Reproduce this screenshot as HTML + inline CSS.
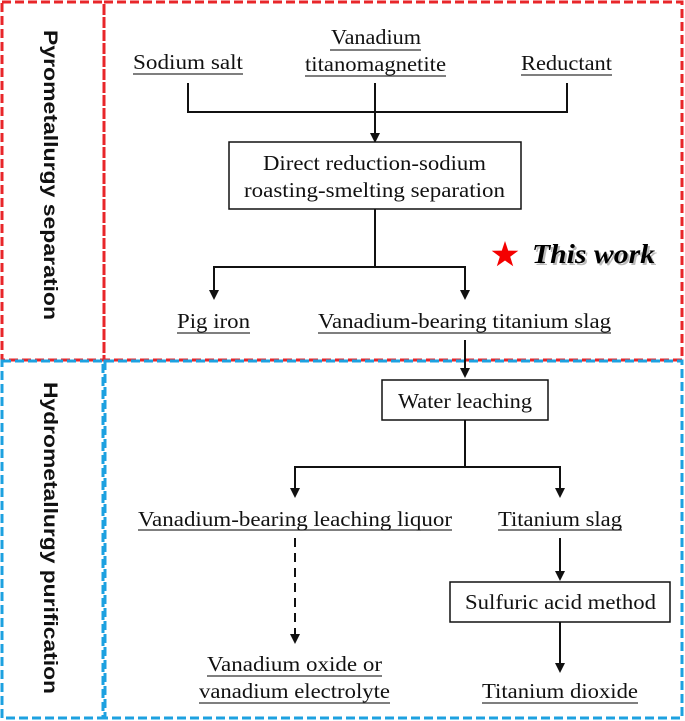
<!DOCTYPE html>
<html><head><meta charset="utf-8"><style>
html,body{margin:0;padding:0;background:#fff;width:685px;height:721px;overflow:hidden}
svg{display:block}
.t{font-family:"Liberation Serif",serif;font-size:21px;fill:#111}
.v{font-family:"Liberation Sans",sans-serif;font-weight:bold;font-size:19px;fill:#111}
</style></head><body>
<svg width="685" height="721" viewBox="0 0 685 721" xmlns="http://www.w3.org/2000/svg">
<defs>
<marker id="a" markerWidth="10" markerHeight="10" refX="5" refY="8" orient="auto" markerUnits="userSpaceOnUse">
<path d="M0,0 L10,0 L5,9 z" fill="#111" transform="rotate(-90 5 5) translate(0,0)"/>
</marker>
</defs>
<!-- borders -->
<g fill="none" stroke-width="3" stroke-dasharray="9,4">
<rect x="2" y="2" width="102" height="358" stroke="#e8262a"/>
<rect x="104" y="2" width="578" height="358" stroke="#e8262a"/>
<rect x="2" y="361" width="101" height="357" stroke="#1da1e0"/>
<rect x="105" y="361" width="577" height="357" stroke="#1da1e0"/>
</g>
<!-- side labels -->
<text class="v" transform="translate(44,175) rotate(90)" text-anchor="middle" textLength="290" lengthAdjust="spacingAndGlyphs">Pyrometallurgy separation</text>
<text class="v" transform="translate(44,538) rotate(90)" text-anchor="middle" textLength="312" lengthAdjust="spacingAndGlyphs">Hydrometallurgy purification</text>

<!-- lines -->
<g stroke="#111" stroke-width="2" fill="none">
<polyline points="188,83 188,112 567,112 567,83"/>
<line x1="375" y1="83" x2="375" y2="134"/>
<line x1="375" y1="209" x2="375" y2="267"/>
<polyline points="214,291 214,267 465,267 465,291"/>
<line x1="465" y1="340" x2="465" y2="369"/>
<line x1="465" y1="420" x2="465" y2="467"/>
<polyline points="295,489 295,467 560,467 560,489"/>
<line x1="295" y1="538" x2="295" y2="635" stroke-dasharray="9,6"/>
<line x1="560" y1="538" x2="560" y2="572"/>
<line x1="560" y1="622" x2="560" y2="664"/>
</g>
<g fill="#111">
<path d="M370,133 L380,133 L375,143 z"/>
<path d="M209,290 L219,290 L214,300 z"/>
<path d="M460,290 L470,290 L465,300 z"/>
<path d="M460,368 L470,368 L465,378 z"/>
<path d="M290,488 L300,488 L295,498 z"/>
<path d="M555,488 L565,488 L560,498 z"/>
<path d="M290,634 L300,634 L295,644 z"/>
<path d="M555,571 L565,571 L560,581 z"/>
<path d="M555,663 L565,663 L560,673 z"/>
</g>

<!-- boxes -->
<g fill="#fff" stroke="#111" stroke-width="1.5">
<rect x="229" y="142" width="292" height="67"/>
<rect x="382" y="380" width="166" height="40"/>
<rect x="450" y="582" width="220" height="40"/>
</g>

<!-- underlines -->
<g stroke="#333" stroke-width="1.2">
<line x1="133" y1="74" x2="243" y2="74"/>
<line x1="305" y1="76" x2="446" y2="76"/>
<line x1="521" y1="75" x2="612" y2="75"/>
<line x1="330" y1="29" x2="421" y2="29" stroke="#fff"/>
<line x1="177" y1="333" x2="250" y2="333"/>
<line x1="318" y1="333" x2="611" y2="333"/>
<line x1="138" y1="530" x2="452" y2="530"/>
<line x1="498" y1="530" x2="622" y2="530"/>
<line x1="207" y1="676" x2="382" y2="676"/>
<line x1="199" y1="703" x2="390" y2="703"/>
<line x1="482" y1="703" x2="638" y2="703"/>
<line x1="330" y1="50" x2="421" y2="50"/>
</g>

<!-- texts -->
<g class="t">
<text x="133" y="69" textLength="110" lengthAdjust="spacingAndGlyphs">Sodium  salt</text>
<text x="331" y="44" textLength="90" lengthAdjust="spacingAndGlyphs">Vanadium</text>
<text x="305" y="71" textLength="141" lengthAdjust="spacingAndGlyphs">titanomagnetite</text>
<text x="521" y="70" textLength="91" lengthAdjust="spacingAndGlyphs">Reductant</text>
<text x="263" y="170" textLength="223" lengthAdjust="spacingAndGlyphs">Direct reduction-sodium</text>
<text x="244" y="197" textLength="261" lengthAdjust="spacingAndGlyphs">roasting-smelting  separation</text>
<text x="177" y="328" textLength="73" lengthAdjust="spacingAndGlyphs">Pig  iron</text>
<text x="318" y="328" textLength="293" lengthAdjust="spacingAndGlyphs">Vanadium-bearing  titanium  slag</text>
<text x="398" y="408" textLength="134" lengthAdjust="spacingAndGlyphs">Water  leaching</text>
<text x="138" y="526" textLength="314" lengthAdjust="spacingAndGlyphs">Vanadium-bearing  leaching  liquor</text>
<text x="498" y="526" textLength="124" lengthAdjust="spacingAndGlyphs">Titanium  slag</text>
<text x="465" y="609" textLength="191" lengthAdjust="spacingAndGlyphs">Sulfuric  acid  method</text>
<text x="207" y="671" textLength="175" lengthAdjust="spacingAndGlyphs">Vanadium  oxide  or</text>
<text x="199" y="698" textLength="191" lengthAdjust="spacingAndGlyphs">vanadium  electrolyte</text>
<text x="482" y="698" textLength="156" lengthAdjust="spacingAndGlyphs">Titanium  dioxide</text>
</g>

<!-- this work -->
<path d="M505,241 L508.2,250.6 L518.3,250.7 L510.2,256.7 L513.2,266.3 L505,260.5 L496.8,266.3 L499.8,256.7 L491.7,250.7 L501.8,250.6 z" fill="#f40000"/>
<text x="534" y="265" font-family="Liberation Serif,serif" font-weight="bold" font-style="italic" font-size="27" fill="#bbb" textLength="123" lengthAdjust="spacingAndGlyphs">This work</text>
<text x="532" y="263" font-family="Liberation Serif,serif" font-weight="bold" font-style="italic" font-size="27" fill="#000" textLength="123" lengthAdjust="spacingAndGlyphs">This work</text>
</svg>
</body></html>
